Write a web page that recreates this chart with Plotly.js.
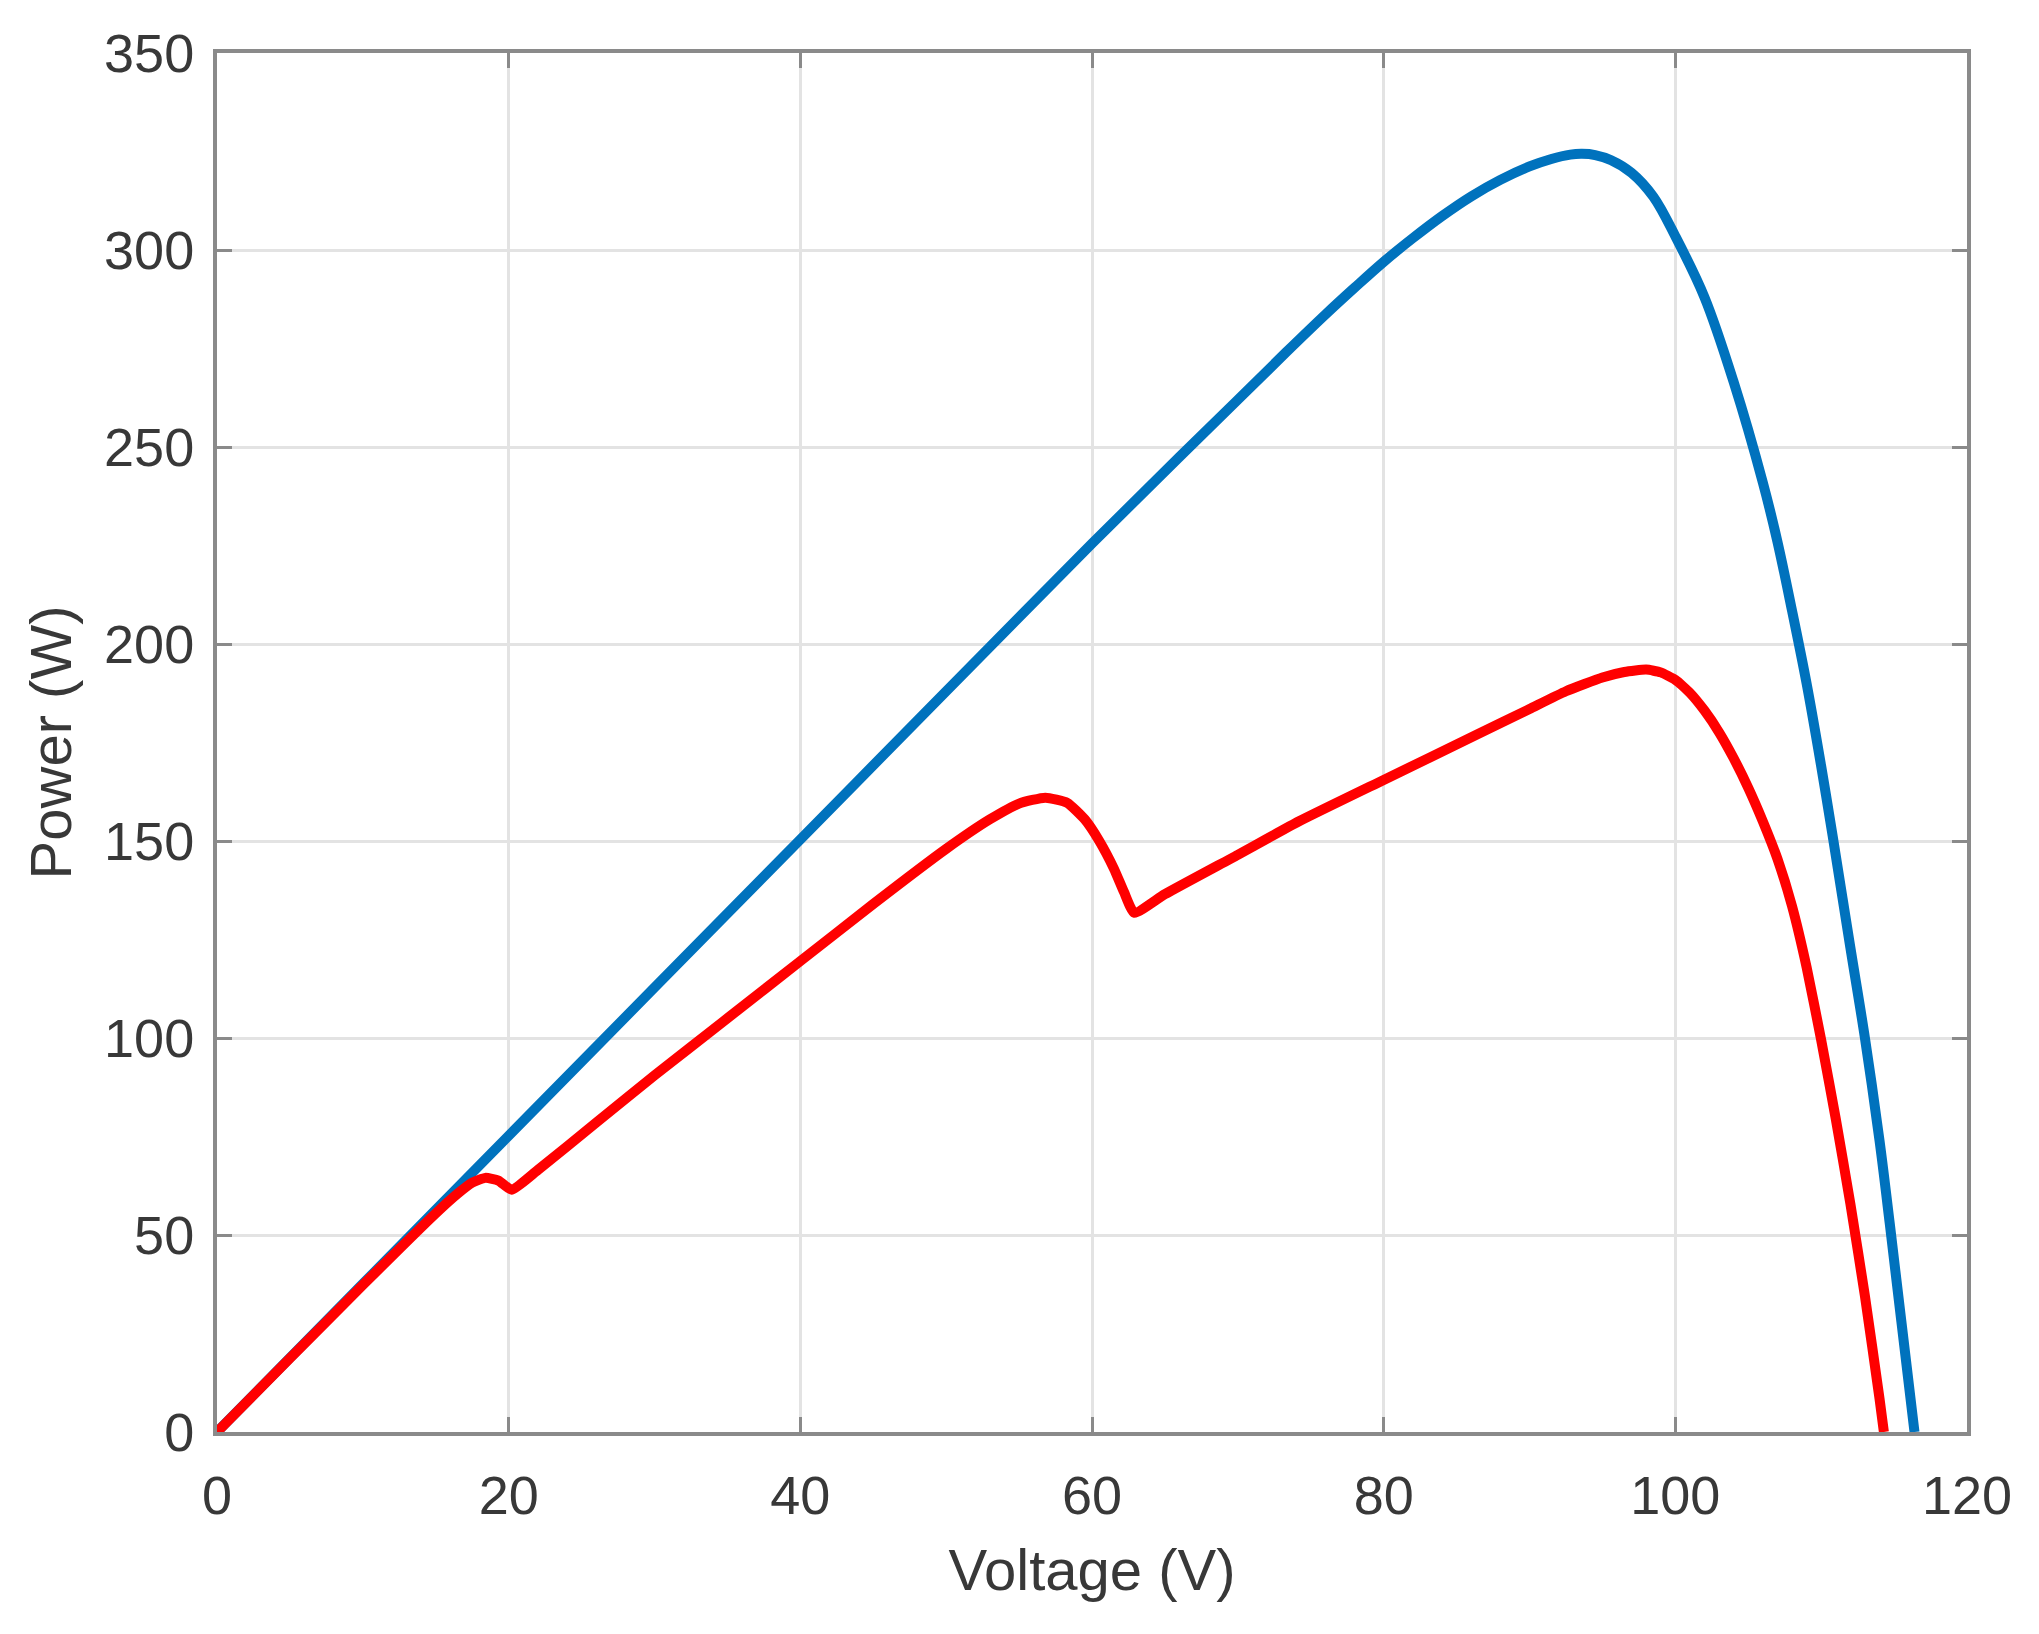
<!DOCTYPE html>
<html>
<head>
<meta charset="utf-8">
<script src="https://cdn.plot.ly/plotly-3.0.1.min.js"></script>
<style>html,body{margin:0;padding:0;background:#fff;}#chart{width:2039px;height:1634px;}</style>
</head>
<body>
<div id="chart"></div>
<script>
// Blue curve (uniform irradiance)
const blueVoltage = [0, 10, 20, 30, 40, 50, 60, 66, 70, 73.3, 76, 78, 80, 82, 84, 86, 88, 90, 91.5, 92.8, 93.6, 94.5, 95.6, 97, 98.5, 100, 102, 104, 106, 107, 108, 109, 110, 110.8, 112, 113, 114, 114.7, 115.5, 116.4];
const bluePower   = [0, 37.6, 75.2, 112.8, 150.4, 188, 225.5, 247.5, 262, 274, 283.6, 290.4, 297, 303, 308.6, 313.6, 317.8, 321.2, 323.1, 324.2, 324.4, 324.1, 322.8, 319.6, 313.5, 303.5, 288, 266.5, 241, 226, 208.5, 190, 169, 151, 123, 100, 74, 53, 28, 0];

// Red curve (partial shading)
const redVoltage = [0, 5, 10, 15, 16.5, 17.5, 18.4, 19.3, 20.2, 22, 26, 30, 35, 40, 45, 50, 53, 55, 56.8, 58.3, 59.5, 60.5, 61.5, 62.2, 62.9, 65, 70, 74.2, 80, 86.4, 90, 92.5, 95, 96.5, 98, 99, 100, 101, 102, 103, 104, 105, 106, 107, 108, 109, 110, 111, 112, 113, 114, 114.3];
const redPower   = [0, 18.7, 37.3, 55.5, 60.5, 63.3, 64.5, 63.8, 61.5, 66.5, 78.5, 90.5, 105, 119.5, 134, 148, 155.5, 159.5, 161, 159.7, 155.5, 150, 143, 137, 131.8, 136.5, 146.5, 155, 165.5, 177, 183.5, 188, 191.5, 192.9, 193.5, 192.8, 190.9, 187.6, 183.1, 177.6, 171, 163.5, 155, 145.5, 133.5, 118, 99.5, 79.5, 58, 34.5, 8.5, 0];

const xTicks = [0, 20, 40, 60, 80, 100, 120];
const yTicks = [0, 50, 100, 150, 200, 250, 300, 350];

const font = {family: 'Liberation Sans, Arial, sans-serif', color: '#383838'};

const traces = [
  {x: blueVoltage, y: bluePower, mode: 'lines', line: {color: '#0072BD', width: 10, shape: 'spline', smoothing: 1}, name: 'Uniform', hoverinfo: 'x+y'},
  {x: redVoltage, y: redPower, mode: 'lines', line: {color: '#FF0000', width: 10, shape: 'spline', smoothing: 0.5}, name: 'Shaded', hoverinfo: 'x+y'}
];

const axisCommon = {
  showline: true, linecolor: '#8a8a8a', linewidth: 4, mirror: 'ticks',
  ticks: 'inside', ticklen: 15, tickwidth: 3, tickcolor: '#8a8a8a',
  showgrid: true, gridcolor: '#e3e3e3', gridwidth: 3,
  zeroline: false,
  tickfont: Object.assign({size: 54}, font)
};

const layout = {
  width: 2039, height: 1634,
  paper_bgcolor: '#ffffff', plot_bgcolor: '#ffffff',
  margin: {l: 217, r: 72, t: 53, b: 202},
  showlegend: false,
  xaxis: Object.assign({}, axisCommon, {
    range: [0, 120], tickmode: 'array', tickvals: xTicks, ticktext: xTicks.map(String),
    ticklabelstandoff: 13,
    title: {text: 'Voltage (V)', font: Object.assign({size: 58}, font), standoff: 27}
  }),
  yaxis: Object.assign({}, axisCommon, {
    range: [0, 350], tickmode: 'array', tickvals: yTicks, ticktext: yTicks.map(String),
    ticklabelstandoff: 8,
    title: {text: 'Power (W)', font: Object.assign({size: 58}, font), standoff: 15}
  })
};

Plotly.newPlot('chart', traces, layout, {displayModeBar: false, staticPlot: true});
</script>
</body>
</html>
